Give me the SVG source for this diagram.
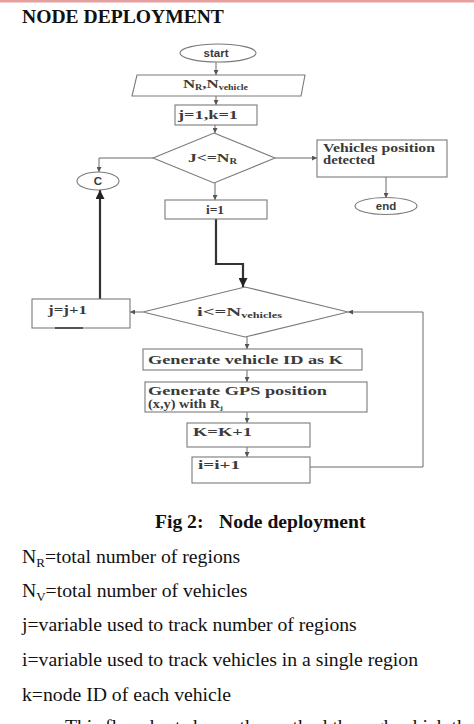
<svg xmlns="http://www.w3.org/2000/svg" width="474" height="724" viewBox="0 0 474 724">
<style>
.shape{fill:#fff;stroke:#7a7a7a;stroke-width:1.1}
.conn{fill:none;stroke:#6a6a6a;stroke-width:1}
.thick{fill:none;stroke:#333;stroke-width:2.2}
.lbl{font-family:"Liberation Serif",serif;font-weight:bold;font-size:13.5px;fill:#3a3a3a}
.lbl2{font-family:"Liberation Serif",serif;font-weight:bold;font-size:11.5px;fill:#3a3a3a}
.sans{font-family:"Liberation Sans",sans-serif;font-weight:bold;font-size:11.5px;fill:#3a3a3a}
.body{font-family:"Liberation Serif",serif;font-size:19.7px;fill:#111}
.head{font-family:"Liberation Serif",serif;font-weight:bold;font-size:19.6px;fill:#111}
</style>
<defs>
<marker id="ah" viewBox="0 0 6 6" refX="6" refY="3" markerWidth="5" markerHeight="5" orient="auto" markerUnits="userSpaceOnUse">
<path d="M0,0 L6,3 L0,6 z" fill="#555"/>
</marker>
<marker id="ahb" viewBox="0 0 6 6" refX="6" refY="3" markerWidth="9" markerHeight="9" orient="auto" markerUnits="userSpaceOnUse">
<path d="M0,0 L6,3 L0,6 z" fill="#222"/>
</marker>
</defs>
<rect x="0" y="0" width="474" height="2.5" fill="#e6a0a0"/>
<text class="head" x="22" y="23">NODE DEPLOYMENT</text>

<g id="connectors">
<line class="conn" x1="216" y1="62" x2="216" y2="75" marker-end="url(#ah)"/>
<line class="conn" x1="216" y1="96" x2="216" y2="105" marker-end="url(#ah)"/>
<line class="conn" x1="215" y1="125" x2="215" y2="133" marker-end="url(#ah)"/>
<polyline class="conn" points="153,158 99,158 99,172" marker-end="url(#ah)"/>
<line class="conn" x1="275" y1="158" x2="317" y2="158" marker-end="url(#ah)"/>
<line class="conn" x1="386" y1="177" x2="386" y2="198" marker-end="url(#ah)"/>
<line class="conn" x1="215" y1="183" x2="215" y2="200" marker-end="url(#ah)"/>
<polyline class="thick" points="216,219 216,264 243,264 243,287" marker-end="url(#ahb)"/>
<line class="conn" x1="143" y1="312" x2="130" y2="312" marker-end="url(#ah)"/>
<line class="thick" x1="100" y1="299" x2="100" y2="190" marker-end="url(#ahb)"/>
<line class="conn" x1="247" y1="337" x2="247" y2="349" marker-end="url(#ah)"/>
<line class="conn" x1="247" y1="370" x2="247" y2="382" marker-end="url(#ah)"/>
<line class="conn" x1="247" y1="412" x2="247" y2="423" marker-end="url(#ah)"/>
<line class="conn" x1="247" y1="447" x2="247" y2="457" marker-end="url(#ah)"/>
<polyline class="conn" points="310,467 423,467 423,312 348,312" marker-end="url(#ah)"/>
</g>

<g id="start">
<ellipse class="shape" cx="218" cy="53" rx="38" ry="9"/>
<text class="sans" x="216" y="57" text-anchor="middle">start</text>
</g>
<g id="input">
<polygon class="shape" points="137,75 305,75 301,96 132,96"/>
<text class="lbl" x="183" y="88" textLength="65" lengthAdjust="spacingAndGlyphs">N<tspan font-size="8" dy="2">R</tspan><tspan dy="-2">,N</tspan><tspan font-size="8" dy="2">vehicle</tspan></text>
</g>
<g id="init">
<rect class="shape" x="175" y="105" width="82" height="20"/>
<text class="lbl" x="178" y="119" textLength="60" lengthAdjust="spacingAndGlyphs">j=1,k=1</text>
</g>
<g id="cond-region">
<polygon class="shape" points="214,133 275,158 214,183 153,158"/>
<text class="lbl" x="188" y="162" textLength="49" lengthAdjust="spacingAndGlyphs">J&lt;=N<tspan font-size="8" dy="2">R</tspan></text>
</g>
<g id="connector-c">
<ellipse class="shape" cx="98" cy="181" rx="21" ry="9"/>
<text class="sans" x="98" y="185" text-anchor="middle">C</text>
</g>
<g id="detected">
<rect class="shape" x="317" y="140" width="130" height="37"/>
<text class="lbl2" x="323" y="152" textLength="112" lengthAdjust="spacingAndGlyphs">Vehicles position</text>
<text class="lbl2" x="323" y="164" textLength="52" lengthAdjust="spacingAndGlyphs">detected</text>
</g>
<g id="end">
<ellipse class="shape" cx="386" cy="206" rx="31" ry="8.5"/>
<text class="sans" x="386" y="210" text-anchor="middle">end</text>
</g>
<g id="init-i">
<rect class="shape" x="165" y="200" width="102" height="19"/>
<text class="lbl" x="215" y="214" text-anchor="middle">i=1</text>
</g>
<g id="incr-j">
<rect class="shape" x="32" y="299" width="98" height="29"/>
<line x1="55" y1="328" x2="83" y2="328" stroke="#333" stroke-width="1.5"/>
<text class="lbl" x="48" y="314" textLength="39" lengthAdjust="spacingAndGlyphs">j=j+1</text>
</g>
<g id="cond-vehicle">
<polygon class="shape" points="245,287 348,312 245,337 143,312"/>
<text class="lbl" x="197" y="316" textLength="85" lengthAdjust="spacingAndGlyphs">i&lt;=N<tspan font-size="8" dy="2">vehicles</tspan></text>
</g>
<g id="gen-id">
<rect class="shape" x="143" y="349" width="219" height="21"/>
<text class="lbl" x="148" y="364" textLength="195" lengthAdjust="spacingAndGlyphs">Generate vehicle  ID as K</text>
</g>
<g id="gen-gps">
<rect class="shape" x="145" y="382" width="222" height="30"/>
<text class="lbl2" x="148" y="395" textLength="179" lengthAdjust="spacingAndGlyphs">Generate GPS position</text>
<text class="lbl2" x="148" y="408" textLength="75" lengthAdjust="spacingAndGlyphs">(x,y) with R<tspan font-size="7" dy="2">j</tspan></text>
</g>
<g id="incr-k">
<rect class="shape" x="187" y="423" width="123" height="24"/>
<text class="lbl" x="193" y="436" textLength="59" lengthAdjust="spacingAndGlyphs">K=K+1</text>
</g>
<g id="incr-i">
<rect class="shape" x="192" y="457" width="118" height="26"/>
<text class="lbl" x="198" y="469" textLength="42" lengthAdjust="spacingAndGlyphs">i=i+1</text>
</g>

<text class="head" x="155" y="528">Fig 2:<tspan x="219">Node deployment</tspan></text>
<text class="body" x="22" y="563">N<tspan font-size="13" dy="4">R</tspan><tspan dy="-4">=total number of regions</tspan></text>
<text class="body" x="22" y="597">N<tspan font-size="13" dy="4">V</tspan><tspan dy="-4">=total number of vehicles</tspan></text>
<text class="body" x="22" y="631">j=variable used to track number of regions</text>
<text class="body" x="22" y="666">i=variable used to track vehicles in a single region</text>
<text class="body" x="22" y="701">k=node ID of each vehicle</text>
<text class="body" x="65" y="733">This flowchart shows the method through which the nodes</text>
</svg>
